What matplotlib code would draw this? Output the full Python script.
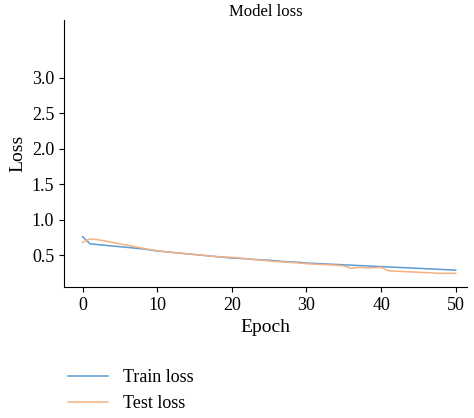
import matplotlib
matplotlib.use("Agg")
import matplotlib.pyplot as plt

plt.rcParams['font.family'] = ['Liberation Serif', 'DejaVu Serif']

epochs = list(range(51))
train_loss = [0.76, 0.66, 0.65, 0.64, 0.63, 0.62, 0.61, 0.60, 0.59, 0.575, 0.56,
              0.55, 0.54, 0.53, 0.52, 0.51, 0.50, 0.49, 0.48, 0.47, 0.46,
              0.455, 0.45, 0.44, 0.435, 0.43, 0.42, 0.41, 0.405, 0.40, 0.39,
              0.385, 0.38, 0.375, 0.37, 0.365, 0.36, 0.355, 0.35, 0.345, 0.34,
              0.335, 0.33, 0.325, 0.32, 0.315, 0.31, 0.305, 0.30, 0.295, 0.29]
test_loss = [0.68, 0.73, 0.72, 0.70, 0.68, 0.66, 0.64, 0.62, 0.60, 0.58, 0.565,
             0.55, 0.54, 0.53, 0.52, 0.51, 0.50, 0.49, 0.48, 0.475, 0.47,
             0.46, 0.45, 0.44, 0.43, 0.42, 0.41, 0.405, 0.40, 0.39, 0.38,
             0.375, 0.37, 0.365, 0.36, 0.35, 0.315, 0.33, 0.32, 0.325, 0.33,
             0.28, 0.275, 0.27, 0.265, 0.26, 0.255, 0.25, 0.245, 0.245, 0.245]

fig = plt.figure(figsize=(4.74, 4.18), dpi=100)
ax = fig.add_axes([0.135, 0.313, 0.85, 0.64])
ax.plot(epochs, train_loss, color='#5b9bd5', lw=1.1, label='Train loss')
ax.plot(epochs, test_loss, color='#f4b183', lw=1.1, label='Test loss')
ax.set_xlim(-2.5, 51.5)
ax.set_ylim(0.05, 3.82)
ax.set_xticks([0, 10, 20, 30, 40, 50])
ax.set_yticks([0.5, 1.0, 1.5, 2.0, 2.5, 3.0])
ax.spines['top'].set_visible(False)
ax.spines['right'].set_visible(False)
ax.tick_params(labelsize=13)
ax.set_title('Model loss', fontsize=12, pad=2)
ax.set_xlabel('Epoch', fontsize=14)
ax.set_ylabel('Loss', fontsize=14)
fig.legend(loc='lower left', bbox_to_anchor=(0.11, -0.025), frameon=False, fontsize=13,
           handlelength=2.2)
fig.savefig('out.png', dpi=100)
